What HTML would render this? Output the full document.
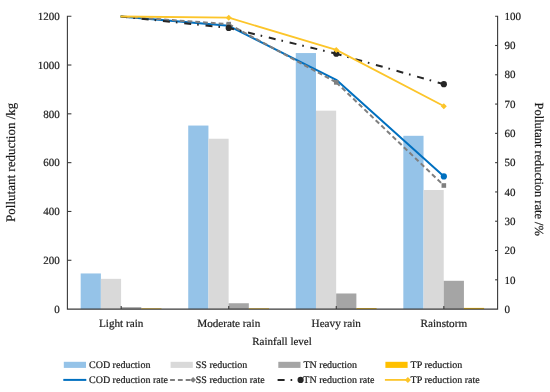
<!DOCTYPE html><html><head><meta charset="utf-8"><style>html,body{margin:0;padding:0;background:#fff;width:550px;height:392px;overflow:hidden}svg{display:block}text{font-family:"Liberation Serif","Times New Roman",serif;fill:#1a1a1a;stroke:#1a1a1a;stroke-width:0.2px;text-rendering:geometricPrecision}</style></head><body>
<svg width="550" height="392" viewBox="0 0 550 392">
<rect width="550" height="392" fill="#fff"/>
<rect x="80.68" y="273.46" width="20.20" height="35.64" fill="#95C3E8"/>
<rect x="188.23" y="125.55" width="20.20" height="183.55" fill="#95C3E8"/>
<rect x="295.77" y="53.06" width="20.20" height="256.04" fill="#95C3E8"/>
<rect x="403.33" y="135.80" width="20.20" height="173.30" fill="#95C3E8"/>
<rect x="100.88" y="278.83" width="20.20" height="30.27" fill="#D9D9D9"/>
<rect x="208.43" y="138.73" width="20.20" height="170.37" fill="#D9D9D9"/>
<rect x="315.97" y="110.66" width="20.20" height="198.44" fill="#D9D9D9"/>
<rect x="423.53" y="189.99" width="20.20" height="119.11" fill="#D9D9D9"/>
<rect x="121.08" y="307.15" width="20.20" height="1.95" fill="#A5A5A5"/>
<rect x="228.63" y="303.24" width="20.20" height="5.86" fill="#A5A5A5"/>
<rect x="336.17" y="293.48" width="20.20" height="15.62" fill="#A5A5A5"/>
<rect x="443.73" y="280.79" width="20.20" height="28.31" fill="#A5A5A5"/>
<rect x="141.28" y="308.37" width="20.20" height="0.73" fill="#FFC000"/>
<rect x="248.83" y="308.37" width="20.20" height="0.73" fill="#FFC000"/>
<rect x="356.38" y="308.12" width="20.20" height="0.98" fill="#FFC000"/>
<rect x="463.93" y="307.88" width="20.20" height="1.22" fill="#FFC000"/>
<path d="M71.4,16.2H67.4V309.1H497.6V16.2H495.1" fill="none" stroke="#3a3a3a" stroke-width="1.1"/>
<text x="59.8" y="312.80" font-size="11" text-anchor="end">0</text>
<line x1="67.4" y1="260.28" x2="71.4" y2="260.28" stroke="#3a3a3a" stroke-width="1.1"/>
<text x="59.8" y="263.98" font-size="11" text-anchor="end">200</text>
<line x1="67.4" y1="211.47" x2="71.4" y2="211.47" stroke="#3a3a3a" stroke-width="1.1"/>
<text x="59.8" y="215.17" font-size="11" text-anchor="end">400</text>
<line x1="67.4" y1="162.65" x2="71.4" y2="162.65" stroke="#3a3a3a" stroke-width="1.1"/>
<text x="59.8" y="166.35" font-size="11" text-anchor="end">600</text>
<line x1="67.4" y1="113.83" x2="71.4" y2="113.83" stroke="#3a3a3a" stroke-width="1.1"/>
<text x="59.8" y="117.53" font-size="11" text-anchor="end">800</text>
<line x1="67.4" y1="65.02" x2="71.4" y2="65.02" stroke="#3a3a3a" stroke-width="1.1"/>
<text x="59.8" y="68.72" font-size="11" text-anchor="end">1000</text>
<text x="59.8" y="19.90" font-size="11" text-anchor="end">1200</text>
<text x="504.6" y="312.80" font-size="11">0</text>
<line x1="495.1" y1="279.81" x2="497.6" y2="279.81" stroke="#3a3a3a" stroke-width="1.1"/>
<text x="504.6" y="283.51" font-size="11">10</text>
<line x1="495.1" y1="250.52" x2="497.6" y2="250.52" stroke="#3a3a3a" stroke-width="1.1"/>
<text x="504.6" y="254.22" font-size="11">20</text>
<line x1="495.1" y1="221.23" x2="497.6" y2="221.23" stroke="#3a3a3a" stroke-width="1.1"/>
<text x="504.6" y="224.93" font-size="11">30</text>
<line x1="495.1" y1="191.94" x2="497.6" y2="191.94" stroke="#3a3a3a" stroke-width="1.1"/>
<text x="504.6" y="195.64" font-size="11">40</text>
<line x1="495.1" y1="162.65" x2="497.6" y2="162.65" stroke="#3a3a3a" stroke-width="1.1"/>
<text x="504.6" y="166.35" font-size="11">50</text>
<line x1="495.1" y1="133.36" x2="497.6" y2="133.36" stroke="#3a3a3a" stroke-width="1.1"/>
<text x="504.6" y="137.06" font-size="11">60</text>
<line x1="495.1" y1="104.07" x2="497.6" y2="104.07" stroke="#3a3a3a" stroke-width="1.1"/>
<text x="504.6" y="107.77" font-size="11">70</text>
<line x1="495.1" y1="74.78" x2="497.6" y2="74.78" stroke="#3a3a3a" stroke-width="1.1"/>
<text x="504.6" y="78.48" font-size="11">80</text>
<line x1="495.1" y1="45.49" x2="497.6" y2="45.49" stroke="#3a3a3a" stroke-width="1.1"/>
<text x="504.6" y="49.19" font-size="11">90</text>
<text x="504.6" y="19.90" font-size="11">100</text>
<line x1="121.18" y1="306.1" x2="121.18" y2="309.1" stroke="#3a3a3a" stroke-width="1.1"/>
<line x1="228.73" y1="306.1" x2="228.73" y2="309.1" stroke="#3a3a3a" stroke-width="1.1"/>
<line x1="336.27" y1="306.1" x2="336.27" y2="309.1" stroke="#3a3a3a" stroke-width="1.1"/>
<line x1="443.83" y1="306.1" x2="443.83" y2="309.1" stroke="#3a3a3a" stroke-width="1.1"/>
<path d="M121.18,16.50 L228.73,25.87 L336.27,79.77 L443.83,176.42" fill="none" stroke="#0070C0" stroke-width="2" stroke-linejoin="round" stroke-linecap="square"/>
<circle cx="443.83" cy="176.42" r="3.10" fill="#0070C0"/>
<path d="M121.18,16.50L228.73,24.12" fill="none" stroke="#7F7F7F" stroke-width="2" stroke-dasharray="4.8,3" stroke-dashoffset="3.7"/>
<path d="M228.73,24.12L336.27,82.40" fill="none" stroke="#7F7F7F" stroke-width="2" stroke-dasharray="4.8,3" stroke-dashoffset="0"/>
<path d="M336.27,82.40L443.83,185.50" fill="none" stroke="#7F7F7F" stroke-width="2" stroke-dasharray="4.8,3" stroke-dashoffset="0"/>
<rect x="226.43" y="21.82" width="4.6" height="4.6" fill="#7F7F7F"/>
<rect x="333.97" y="80.10" width="4.6" height="4.6" fill="#7F7F7F"/>
<rect x="441.53" y="183.20" width="4.6" height="4.6" fill="#7F7F7F"/>
<path d="M121.18,16.50L228.73,27.92" fill="none" stroke="#262626" stroke-width="2" stroke-dasharray="7,6,1.6,6.8" stroke-dashoffset="0.8"/>
<path d="M228.73,27.92L336.27,53.70" fill="none" stroke="#262626" stroke-width="2" stroke-dasharray="7,6,1.6,6.8" stroke-dashoffset="1.6"/>
<path d="M336.27,53.70L443.83,84.16" fill="none" stroke="#262626" stroke-width="2" stroke-dasharray="7,6,1.6,6.8" stroke-dashoffset="1.6"/>
<circle cx="228.73" cy="27.92" r="3.10" fill="#262626"/>
<circle cx="336.27" cy="53.70" r="3.10" fill="#262626"/>
<circle cx="443.83" cy="84.16" r="3.10" fill="#262626"/>
<path d="M121.18,16.50 L228.73,17.67 L336.27,49.89 L443.83,106.13" fill="none" stroke="#FCC52A" stroke-width="1.8" stroke-linejoin="round" stroke-linecap="square"/>
<path d="M228.73,14.67L231.73,17.67L228.73,20.67L225.73,17.67Z" fill="#FCC52A"/>
<path d="M336.27,46.89L339.27,49.89L336.27,52.89L333.27,49.89Z" fill="#FCC52A"/>
<path d="M443.83,103.13L446.83,106.13L443.83,109.13L440.83,106.13Z" fill="#FCC52A"/>
<text x="121.18" y="326.8" font-size="11.2" text-anchor="middle">Light rain</text>
<text x="228.73" y="326.8" font-size="11.2" text-anchor="middle">Moderate rain</text>
<text x="336.27" y="326.8" font-size="11.2" text-anchor="middle">Heavy rain</text>
<text x="443.83" y="326.8" font-size="11.2" text-anchor="middle">Rainstorm</text>
<text x="282" y="344.5" font-size="11" text-anchor="middle">Rainfall level</text>
<text transform="translate(14.8,162.3) rotate(-90)" font-size="13" text-anchor="middle">Pollutant reduction /kg</text>
<text transform="translate(534.6,169.2) rotate(90)" font-size="12.4" text-anchor="middle">Pollutant reduction rate /%</text>
<rect x="63.8" y="361.8" width="22.2" height="6.1" fill="#95C3E8"/>
<text x="89.0" y="368.1" font-size="10">COD reduction</text>
<rect x="170.6" y="361.8" width="22.2" height="6.1" fill="#D9D9D9"/>
<text x="195.8" y="368.1" font-size="10">SS reduction</text>
<rect x="278.3" y="361.8" width="22.2" height="6.1" fill="#A5A5A5"/>
<text x="303.5" y="368.1" font-size="10">TN reduction</text>
<rect x="385.4" y="361.8" width="22.2" height="6.1" fill="#FFC000"/>
<text x="410.6" y="368.1" font-size="10">TP reduction</text>
<line x1="63.3" y1="379.9" x2="86.3" y2="379.9" stroke="#0070C0" stroke-width="2"/>
<text x="89.0" y="383.4" font-size="10">COD reduction rate</text>
<line x1="170.1" y1="379.9" x2="193.1" y2="379.9" stroke="#7F7F7F" stroke-width="2" stroke-dasharray="4.8,3"/>
<path d="M193.10,377.00L196.00,379.90L193.10,382.80L190.20,379.90Z" fill="#7F7F7F"/>
<text x="195.8" y="383.4" font-size="10">SS reduction rate</text>
<line x1="277.6" y1="379.9" x2="300.6" y2="379.9" stroke="#262626" stroke-width="2" stroke-dasharray="7,6,1.6,6.8"/>
<circle cx="300.60" cy="379.90" r="3.10" fill="#262626"/>
<text x="303.3" y="383.4" font-size="10">TN reduction rate</text>
<line x1="384.9" y1="379.9" x2="407.9" y2="379.9" stroke="#FCC52A" stroke-width="1.8"/>
<path d="M407.90,376.90L410.90,379.90L407.90,382.90L404.90,379.90Z" fill="#FCC52A"/>
<text x="410.6" y="383.4" font-size="10">TP reduction rate</text>
</svg></body></html>
